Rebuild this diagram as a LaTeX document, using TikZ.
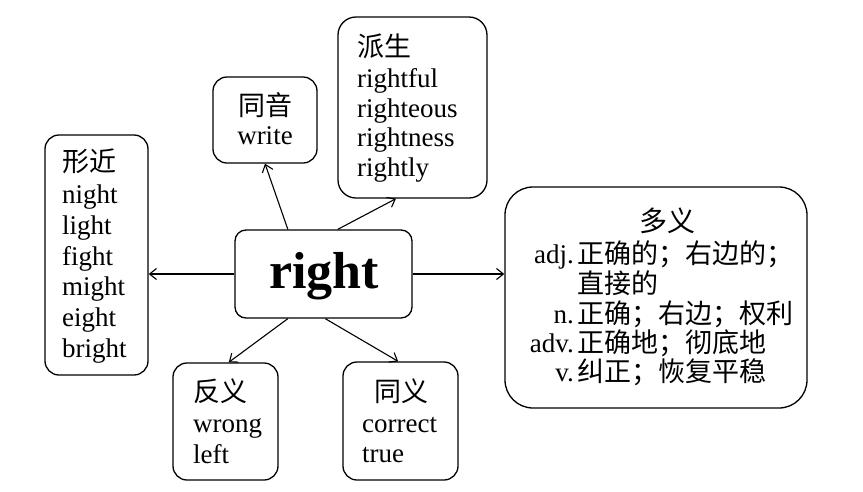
\documentclass[tikz,border=0pt]{standalone}
\usepackage{fontspec}
\setmainfont{Liberation Serif}
\newfontfamily\cjk{Noto Sans CJK SC}
\usetikzlibrary{arrows.meta,calc}
\begin{document}
\begin{tikzpicture}[x=1pt,y=-1pt,
  box/.style={draw, line width=1.3pt, rounded corners=#1, inner sep=0pt},
  box/.default=14pt,
  txt/.style={inner sep=0pt, font=\fontsize{27}{30}\selectfont},
  zh/.style={inner sep=0pt, font=\fontsize{27}{30}\selectfont\cjk},
  conn/.style={line width=1.1pt, -{Straight Barb[length=7pt,width=11pt]}}]
\useasboundingbox[fill=white] (0,0) rectangle (863,491);

% boxes
\node[box, minimum width=103pt, minimum height=240pt] (xj) at (96.5,255) {};
\node[box, minimum width=104pt, minimum height=86pt] (ty) at (265,120) {};
\node[box=18pt, minimum width=149pt, minimum height=181pt] (ps) at (412.5,107.5) {};
\node[box=11pt, minimum width=177pt, minimum height=88pt] (r) at (323.5,274) {};
\node[box=28pt, minimum width=302pt, minimum height=221pt] (dy) at (656,297.5) {};
\node[box, minimum width=105pt, minimum height=117pt] (fy) at (225.5,421.5) {};
\node[box, minimum width=115pt, minimum height=118pt] (tyi) at (400.5,421) {};

% 形近
\node[zh, anchor=base west] (xjt) at (62,171) {形近};
\foreach \w/\y [count=\i] in {night/203, light/234, fight/265, might/295, eight/326, bright/357}
  \node[txt, anchor=base west] (xj\i) at (62,\y) {\w};

% 同音
\node[zh, anchor=base] (tyt) at (265,115) {同音};
\node[txt, anchor=base] (ty1) at (265,144) {write};

% 派生
\node[zh, anchor=base west] (pst) at (357,56) {派生};
\foreach \w/\y [count=\i] in {rightful/87, righteous/117, rightness/146, rightly/176}
  \node[txt, anchor=base west] (ps\i) at (357,\y) {\w};

% right
\node[inner sep=0pt, font=\fontsize{52}{52}\selectfont\bfseries, anchor=base] (rt) at (324,288) {right};

% 反义
\node[zh, anchor=base west] (fyt) at (193,401) {反义};
\node[txt, anchor=base west] (fy1) at (193,432) {wrong};
\node[txt, anchor=base west] (fy2) at (193,463) {left};

% 同义
\node[zh, anchor=base west] (tyit) at (374,401) {同义};
\node[txt, anchor=base west] (tyi1) at (362,432) {correct};
\node[txt, anchor=base west] (tyi2) at (362,462) {true};

% 多义
\node[zh, anchor=base, font=\fontsize{28}{30}\selectfont\cjk] (dyt) at (667,231) {多义};
\foreach \w/\y [count=\i] in {adj./263, n./323, adv./352, v./381}
  \node[txt, anchor=base east] (dyl\i) at (574,\y) {\w};
\foreach \w/\y [count=\i] in {正确的；右边的；/263, 直接的/293, 正确；右边；权利/323, 正确地；彻底地/352, 纠正；恢复平稳/381}
  \node[zh, anchor=base west] (dyz\i) at (577,\y) {\w};

% connectors
\draw[conn] (r.west) -- (r.west -| xj.east);
\draw[conn] (r.east) -- (r.east -| dy.west);
\draw[conn] ($(r.north west)!0.30!(r.north east)$) -- (ty.south);
\draw[conn] ($(r.north west)!0.58!(r.north east)$) -- ($(ps.south west)!0.39!(ps.south east)$);
\draw[conn] ($(r.south west)!0.30!(r.south east)$) -- ($(fy.north west)!0.53!(fy.north east)$);
\draw[conn] ($(r.south west)!0.51!(r.south east)$) -- ($(tyi.north west)!0.48!(tyi.north east)$);
\end{tikzpicture}
\end{document}
